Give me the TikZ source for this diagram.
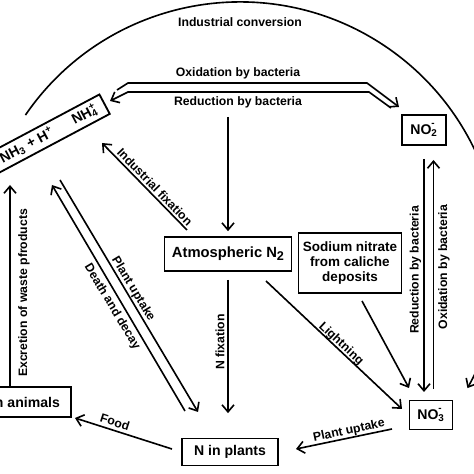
\documentclass[tikz,border=0pt]{standalone}
\usepackage{fontspec}
\setmainfont{Liberation Sans}
\usetikzlibrary{arrows.meta}

\begin{document}
\begin{tikzpicture}[x=0.025cm, y=0.025cm, line width=1.15pt,
		>={Straight Barb[length=5pt,width=8.5pt]},
		box/.style={draw=black, text=black, shape=rectangle, line width=1.3pt, inner sep=0pt, font=\bfseries\fontsize{10}{11}\selectfont},
		lbl/.style={text=black, inner sep=0pt, font=\bfseries\fontsize{8.7}{10}\selectfont}]
						\useasboundingbox (0,0) rectangle (474,474);
						\clip (0,0) rectangle (474,474);

						\node[box, minimum width=3.175cm, minimum height=0.55cm, rotate=28] (nh) at (48.5,340) {NH\textsubscript{3} + H\textsuperscript{+}\hspace{1.6em}NH\rlap{\textsuperscript{+}}\textsubscript{4}};
						\node[box, anchor=east, minimum height=0.75cm, inner xsep=8pt] (animals) at (72,72) {N in animals};
						\node[box, minimum width=3.175cm, minimum height=0.85cm, font=\bfseries\fontsize{10.5}{12}\selectfont] (atm) at (228,220) {Atmospheric N\raisebox{-0.35ex}{\fontsize{9}{9}\selectfont 2}};
						\node[box, minimum width=1.1cm, minimum height=0.75cm] (no2) at (424,344) {NO\rlap{\raisebox{1.1ex}{\fontsize{7}{7}\selectfont -}}\textsubscript{2}};
						\node[box, minimum width=2.575cm, minimum height=1.5cm, align=center, font=\bfseries\fontsize{9.6}{11}\selectfont] (soda) at (350,211) {Sodium nitrate\\from caliche\\deposits};
						\node[box, minimum width=1.075cm, minimum height=0.725cm] (no3) at (431,59) {NO\rlap{\raisebox{1.1ex}{\fontsize{7}{7}\selectfont -}}\textsubscript{3}};
						\node[box, minimum width=2.4cm, minimum height=0.675cm] (plants) at (230,22) {N in plants};

						% industrial conversion
						\coordinate (conv) at (240,212);
						\draw[->] ([shift={(145.6:6.5cm)}]conv) arc[start angle=145.6, end angle=-29, radius=6.5cm];
						\node[lbl] (conv_l) at (240,452) {Industrial conversion};

						% bacteria between NH4 and NO2
						\coordinate (ox_a) at (117,384);
						\coordinate (ox_b) at (128,391);
						\coordinate (ox_c) at (367,391);
						\coordinate (ox_d) at (399,367);
						\draw[->] (ox_a) -- (ox_b) -- (ox_c) -- (ox_d);
						\coordinate (rd_a) at (391,366);
						\coordinate (rd_b) at (369,382);
						\coordinate (rd_c) at (128,382);
						\coordinate (rd_d) at (110,373);
						\draw[->] (rd_a) -- (rd_b) -- (rd_c) -- (rd_d);
						\node[lbl] (ox_l) at (238,401) {Oxidation by bacteria};
						\node[lbl] (rd_l) at (238,372) {Reduction by bacteria};

						\coordinate (dn) at (228,357);
						\draw[->, shorten >=3.5pt] (dn) -- (atm.north);

						\coordinate (if_a) at (187,244);
						\coordinate (if_b) at (102,331);
						\draw[->] (if_a) -- (if_b);
						\node[lbl, rotate=-46] (if_l) at (155,287) {Industrial fixation};

						% animals and plants
						\coordinate (ex) at (10,289);
						\draw[->] (ex |- animals.north) -- (ex);
						\node[lbl, rotate=90] (ex_l) at (24,181) {Excretion of waste pfroducts};

						\coordinate (pu_a) at (60,294);
						\coordinate (pu_b) at (198,62);
						\draw[->] (pu_a) -- (pu_b);
						\node[lbl, rotate=-59] (pu_l) at (133,185) {Plant uptake};
						\coordinate (dd_a) at (185,63);
						\coordinate (dd_b) at (52,289);
						\draw[->] (dd_a) -- (dd_b);
						\node[lbl, rotate=-59] (dd_l) at (112,167) {Death and decay};

						\draw[->, shorten <=5.7pt, shorten >=17.4pt] (atm.south) -- (atm.south |- plants.north);
						\node[lbl, rotate=90] (nf_l) at (220,132) {N fixation};

						\coordinate (fd_a) at (172,25);
						\coordinate (fd_b) at (75,56);
						\draw[->] (fd_a) -- (fd_b);
						\node[lbl, rotate=-18] (fd_l) at (115,52) {Food};

						% nitrate
						\coordinate (lt_a) at (266,193);
						\coordinate (lt_b) at (402,65);
						\draw[->] (lt_a) -- (lt_b);
						\node[lbl, rotate=-43] (lt_l) at (341,130) {Lightning};

						\coordinate (sd_a) at (362,173);
						\coordinate (sd_b) at (409,86);
						\draw[->] (sd_a) -- (sd_b);

						\coordinate (rd_dn) at (424,82);
						\draw[->, shorten <=9.2pt] (rd_dn |- no2.south) -- (rd_dn);
						\coordinate (ox_up) at (433.5,314);
						\draw[->, shorten <=7.5pt] (ox_up |- no3.north) -- (ox_up);
						\node[lbl, rotate=90] (rd2_l) at (415.5,204) {Reduction by bacteria};
						\node[lbl, rotate=90] (ox2_l) at (444,207) {Oxidation by bacteria};

						\coordinate (pu2_a) at (392,45);
						\coordinate (pu2_b) at (296,25);
						\draw[->] (pu2_a) -- (pu2_b);
						\node[lbl, rotate=12] (pu2_l) at (349,43) {Plant uptake};
					\end{tikzpicture}
\end{document}
